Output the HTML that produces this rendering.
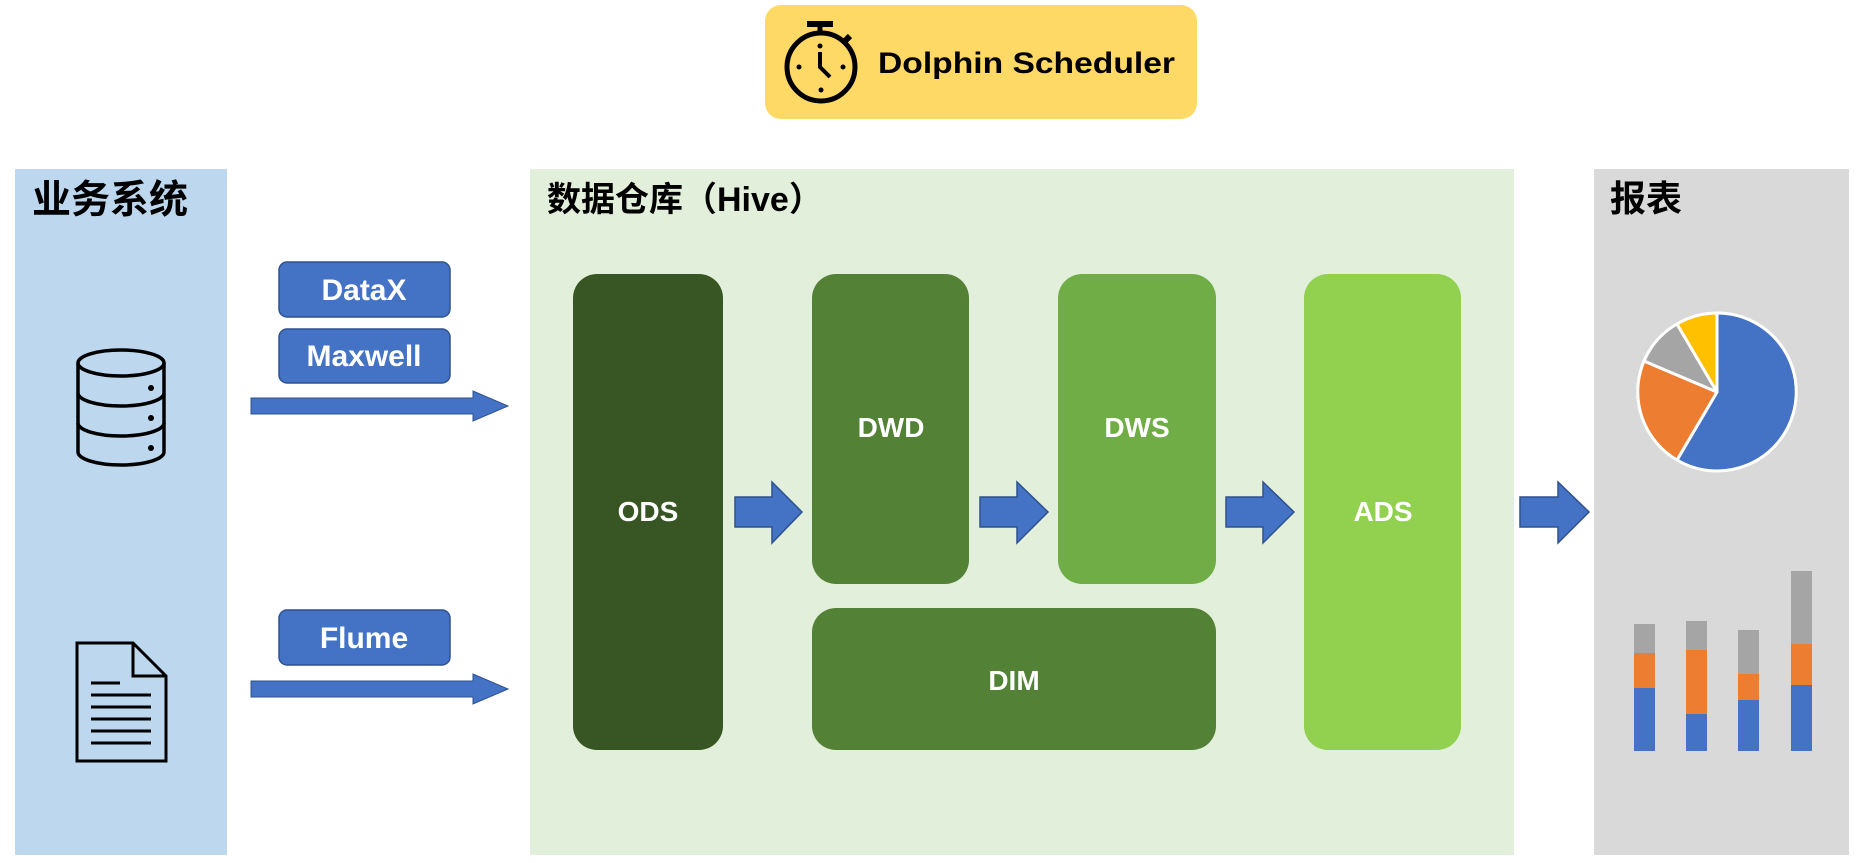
<!DOCTYPE html>
<html><head><meta charset="utf-8"><style>
html,body{margin:0;padding:0;background:#fff;}
svg{display:block;}
</style></head><body>
<svg width="1856" height="863" viewBox="0 0 1856 863" xmlns="http://www.w3.org/2000/svg" font-family="Liberation Sans, Noto Sans CJK SC, sans-serif">
<rect x="765" y="5" width="432" height="114" rx="16" fill="#FFD966"/>
<g stroke="#000" fill="none" stroke-width="5">
<circle cx="821" cy="67" r="34"/>
<line x1="820" y1="25" x2="820" y2="33"/>
<line x1="845" y1="41" x2="850" y2="36" stroke-width="6"/>
<polyline points="820,52 820,67 830,77" stroke-width="4"/>
</g>
<rect x="807" y="21" width="26" height="6" fill="#000"/>
<g fill="#000"><circle cx="799" cy="67" r="2.5"/><circle cx="843" cy="67" r="2.5"/><circle cx="821" cy="90" r="2.5"/><circle cx="820" cy="46" r="2.5"/></g>
<text x="878" y="73" font-size="30" font-weight="bold" fill="#000" textLength="297" lengthAdjust="spacingAndGlyphs">Dolphin Scheduler</text>

<rect x="15" y="169" width="212" height="686" fill="#BDD7EE"/>
<rect x="530" y="169" width="984" height="686" fill="#E2EFDA"/>
<rect x="1594" y="169" width="255" height="686" fill="#D9D9D9"/>
<text x="32" y="213" font-size="39" font-weight="bold" fill="#000">业务系统</text>
<text x="547" y="211" font-size="34" font-weight="bold" fill="#000">数据仓库（Hive）</text>
<text x="1610" y="211" font-size="36" font-weight="bold" fill="#000">报表</text>

<g stroke="#000" stroke-width="3.5" fill="none">
<path d="M78,363 A43,13 0 0 1 164,363 L164,452 A43,13 0 0 1 78,452 Z"/>
<path d="M78,363 A43,13 0 0 0 164,363"/>
<path d="M78,393 A43,13 0 0 0 164,393"/>
<path d="M78,423 A43,13 0 0 0 164,423"/>
</g>
<g fill="#000"><circle cx="151" cy="388" r="3"/><circle cx="151" cy="418" r="3"/><circle cx="151" cy="448" r="3"/></g>
<g stroke="#000" stroke-width="3" fill="none">
<path d="M77,643 L133,643 L166,676 L166,761 L77,761 Z"/>
<path d="M133,643 L133,676 L166,676"/>
<line x1="91" y1="683" x2="120" y2="683"/>
<line x1="91" y1="695" x2="151" y2="695"/>
<line x1="91" y1="707" x2="151" y2="707"/>
<line x1="91" y1="719" x2="151" y2="719"/>
<line x1="91" y1="731" x2="151" y2="731"/>
<line x1="91" y1="743" x2="151" y2="743"/>
</g>

<g fill="#4472C4" stroke="#2F528F" stroke-width="1.5">
<rect x="279" y="262" width="171" height="55" rx="8"/>
<rect x="279" y="329" width="171" height="54" rx="8"/>
<rect x="279" y="610" width="171" height="55" rx="8"/>
</g>
<g fill="#fff" font-size="30" font-weight="bold" text-anchor="middle">
<text x="364" y="300">DataX</text>
<text x="364" y="366">Maxwell</text>
<text x="364" y="648">Flume</text>
</g>
<g fill="#4472C4" stroke="#2F528F" stroke-width="1">
<polygon points="251,398 473,398 473,391 508,406 473,421 473,414 251,414"/>
<polygon points="251,681 473,681 473,674 508,689 473,704 473,697 251,697"/>
</g>

<rect x="573" y="274" width="150" height="476" rx="24" fill="#375623"/>
<rect x="812" y="274" width="157" height="310" rx="24" fill="#538135"/>
<rect x="1058" y="274" width="158" height="310" rx="24" fill="#70AD47"/>
<rect x="1304" y="274" width="157" height="476" rx="24" fill="#92D050"/>
<rect x="812" y="608" width="404" height="142" rx="24" fill="#538135"/>
<g fill="#fff" font-size="28" font-weight="bold" text-anchor="middle">
<text x="648" y="521">ODS</text>
<text x="891" y="437">DWD</text>
<text x="1137" y="437">DWS</text>
<text x="1383" y="521">ADS</text>
<text x="1014" y="690">DIM</text>
</g>
<g fill="#4472C4" stroke="#2F528F" stroke-width="1.5">
<polygon points="735,497 772,497 772,482 802,512 772,543 772,527 735,527"/>
<polygon points="980,497 1017,497 1017,482 1048,512 1017,543 1017,527 980,527"/>
<polygon points="1226,497 1263,497 1263,482 1294,512 1263,543 1263,527 1226,527"/>
<polygon points="1520,497 1558,497 1558,482 1589,512 1558,543 1558,527 1520,527"/>
</g>

<g stroke="#fff" stroke-width="3" stroke-linejoin="round">
<path d="M1717,392 L1717,313 A79,79 0 1 1 1677,460 Z" fill="#4472C4"/>
<path d="M1717,392 L1677,460 A79,79 0 0 1 1644,361 Z" fill="#ED7D31"/>
<path d="M1717,392 L1644,361 A79,79 0 0 1 1677,324 Z" fill="#A5A5A5"/>
<path d="M1717,392 L1677,324 A79,79 0 0 1 1717,313 Z" fill="#FFC000"/>
</g>
<rect x="1634" y="624" width="21" height="29" fill="#A5A5A5"/>
<rect x="1634" y="653" width="21" height="35" fill="#ED7D31"/>
<rect x="1634" y="688" width="21" height="63" fill="#4472C4"/>
<rect x="1686" y="621" width="21" height="29" fill="#A5A5A5"/>
<rect x="1686" y="650" width="21" height="64" fill="#ED7D31"/>
<rect x="1686" y="714" width="21" height="37" fill="#4472C4"/>
<rect x="1738" y="630" width="21" height="44" fill="#A5A5A5"/>
<rect x="1738" y="674" width="21" height="26" fill="#ED7D31"/>
<rect x="1738" y="700" width="21" height="51" fill="#4472C4"/>
<rect x="1791" y="571" width="21" height="73" fill="#A5A5A5"/>
<rect x="1791" y="644" width="21" height="41" fill="#ED7D31"/>
<rect x="1791" y="685" width="21" height="66" fill="#4472C4"/>
</svg>
</body></html>
